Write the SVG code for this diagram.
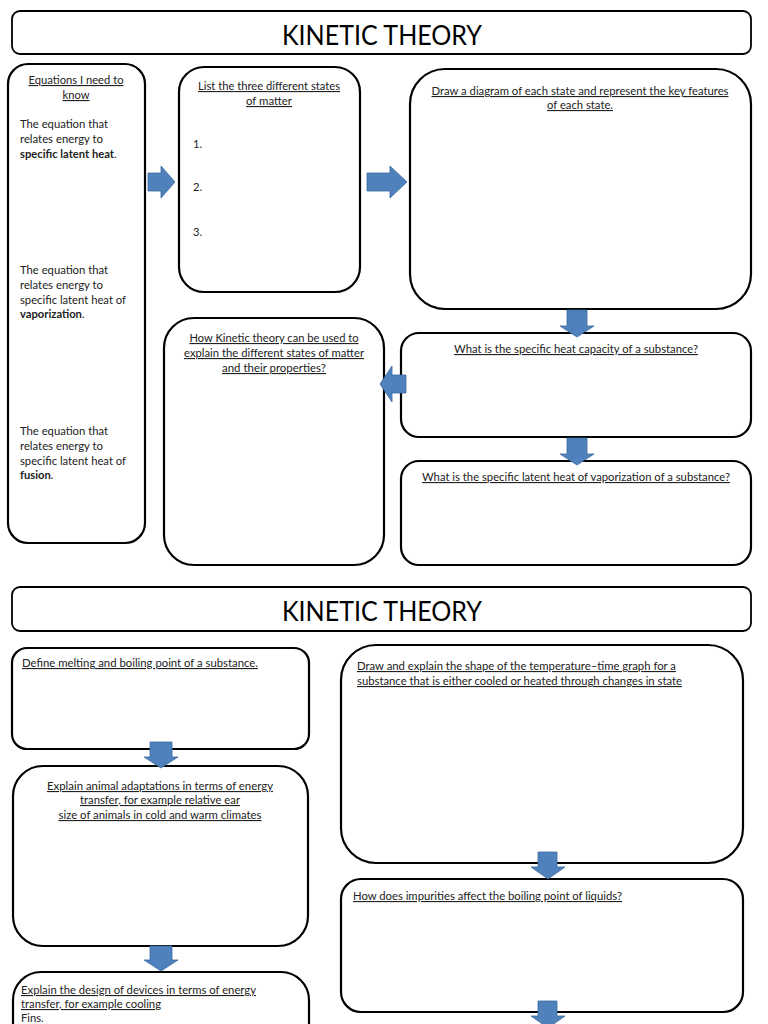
<svg xmlns="http://www.w3.org/2000/svg" width="768" height="1024" viewBox="0 0 768 1024">
<style>
.box{fill:#fff;stroke:#000;stroke-width:2.2}
.ttl{fill:#fff;stroke:#000;stroke-width:1.8}
.arr{fill:#4F81BD;stroke:#3A6A9E;stroke-width:0.8}
text{font-family:Lato,"Open Sans","Liberation Sans",sans-serif;font-size:11.2px;fill:#222}
.u{text-decoration:underline}
.c{text-anchor:middle}
.h{font-size:27px;fill:#000;text-anchor:middle}
.b{font-weight:bold}
</style>
<rect width="768" height="1024" fill="#fff"/>

<g id="title1">
<rect class="ttl" x="12" y="11" width="739" height="43" rx="8"/>
<text class="h" x="382" y="45" textLength="200" lengthAdjust="spacingAndGlyphs">KINETIC THEORY</text>
</g>

<g id="equations">
<rect class="box" x="8" y="64" width="137" height="479" rx="20"/>
<text class="u c" x="76" y="84" textLength="95" lengthAdjust="spacingAndGlyphs">Equations I need to</text>
<text class="u c" x="76" y="99" textLength="27" lengthAdjust="spacingAndGlyphs">know</text>
<text x="20" y="128" textLength="88" lengthAdjust="spacingAndGlyphs">The equation that</text>
<text x="20" y="143" textLength="83" lengthAdjust="spacingAndGlyphs">relates energy to</text>
<text x="20" y="158"><tspan class="b">specific latent heat</tspan>.</text>
<text x="20" y="274" textLength="88" lengthAdjust="spacingAndGlyphs">The equation that</text>
<text x="20" y="289" textLength="83" lengthAdjust="spacingAndGlyphs">relates energy to</text>
<text x="20" y="304" textLength="106" lengthAdjust="spacingAndGlyphs">specific latent heat of</text>
<text x="20" y="318"><tspan class="b">vaporization</tspan>.</text>
<text x="20" y="435" textLength="88" lengthAdjust="spacingAndGlyphs">The equation that</text>
<text x="20" y="450" textLength="83" lengthAdjust="spacingAndGlyphs">relates energy to</text>
<text x="20" y="465" textLength="106" lengthAdjust="spacingAndGlyphs">specific latent heat of</text>
<text x="20" y="479"><tspan class="b">fusion</tspan>.</text>
</g>

<g id="states">
<rect class="box" x="179" y="67" width="181" height="225" rx="25"/>
<text class="u c" x="269" y="90" textLength="142" lengthAdjust="spacingAndGlyphs">List the three different states</text>
<text class="u c" x="269" y="105" textLength="46" lengthAdjust="spacingAndGlyphs">of matter</text>
<text x="193" y="148">1.</text>
<text x="193" y="191">2.</text>
<text x="193" y="236">3.</text>
</g>

<g id="diagram">
<rect class="box" x="410" y="69" width="341" height="240" rx="35"/>
<text class="u c" x="580" y="95" textLength="297" lengthAdjust="spacingAndGlyphs">Draw a diagram of each state and represent the key features</text>
<text class="u c" x="580" y="109" textLength="66" lengthAdjust="spacingAndGlyphs">of each state.</text>
</g>

<g id="heatcap">
<rect class="box" x="401" y="333" width="350" height="104" rx="18"/>
<text class="u c" x="576" y="353" textLength="244" lengthAdjust="spacingAndGlyphs">What is the specific heat capacity of a substance?</text>
</g>

<g id="latentvap">
<rect class="box" x="401" y="461" width="350" height="104" rx="18"/>
<text class="u c" x="576" y="481" textLength="308" lengthAdjust="spacingAndGlyphs">What is the specific latent heat of vaporization of a substance?</text>
</g>

<g id="kinetic">
<rect class="box" x="164" y="318" width="220" height="247" rx="30"/>
<text class="u c" x="274" y="342" textLength="169" lengthAdjust="spacingAndGlyphs">How Kinetic theory can be used to</text>
<text class="u c" x="274" y="357" textLength="180" lengthAdjust="spacingAndGlyphs">explain the different states of matter</text>
<text class="u c" x="274" y="372" textLength="104" lengthAdjust="spacingAndGlyphs">and their properties?</text>
</g>

<g id="title2">
<rect class="ttl" x="12" y="587" width="739" height="44" rx="8"/>
<text class="h" x="382" y="621" textLength="200" lengthAdjust="spacingAndGlyphs">KINETIC THEORY</text>
</g>

<g id="melting">
<rect class="box" x="12" y="648" width="297" height="101" rx="15"/>
<text class="u" x="22" y="667" textLength="236" lengthAdjust="spacingAndGlyphs">Define melting and boiling point of a substance.</text>
</g>

<g id="animal">
<rect class="box" x="13" y="766" width="295" height="180" rx="30"/>
<text class="u c" x="160" y="790" textLength="226" lengthAdjust="spacingAndGlyphs">Explain animal adaptations in terms of energy</text>
<text class="u c" x="160" y="804" textLength="160" lengthAdjust="spacingAndGlyphs">transfer, for example relative ear</text>
<text class="u c" x="160" y="819" textLength="203" lengthAdjust="spacingAndGlyphs">size of animals in cold and warm climates</text>
</g>

<g id="devices">
<rect class="box" x="13" y="972" width="296" height="90" rx="28"/>
<text class="u" x="21" y="994" textLength="235" lengthAdjust="spacingAndGlyphs">Explain the design of devices in terms of energy</text>
<text class="u" x="21" y="1008" textLength="140" lengthAdjust="spacingAndGlyphs">transfer, for example cooling</text>
<text x="21" y="1022">Fins.</text>
</g>

<g id="graph">
<rect class="box" x="341" y="645" width="402" height="218" rx="35"/>
<text class="u" x="357" y="670" textLength="319" lengthAdjust="spacingAndGlyphs">Draw and explain the shape of the temperature–time graph for a</text>
<text class="u" x="357" y="685" textLength="325" lengthAdjust="spacingAndGlyphs">substance that is either cooled or heated through changes in state</text>
</g>

<g id="impurities">
<rect class="box" x="341" y="879" width="402" height="133" rx="20"/>
<text class="u" x="353" y="900" textLength="269" lengthAdjust="spacingAndGlyphs">How does impurities affect the boiling point of liquids?</text>
</g>

<g id="connectors">
<path class="arr" d="M148,173 H161 V166 L175,182 L161,198 V191 H148 Z"/>
<path class="arr" d="M367,173 H390 V166 L407,182 L390,198 V191 H367 Z"/>
<path class="arr" d="M567,310 H587 V326 H594 L577,337 L560,326 H567 Z"/>
<path class="arr" d="M567,438 H587 V454 H594 L577,465 L560,454 H567 Z"/>
<path class="arr" d="M406,375 H392 V366 L380,384 L392,402 V393 H406 Z"/>
<path class="arr" d="M150,742 H172 V757 H178 L161,768 L144,757 H150 Z"/>
<path class="arr" d="M150,946 H172 V960 H178 L161,971 L144,960 H150 Z"/>
<path class="arr" d="M538,852 H557 V867 H565 L548,879 L531,867 H538 Z"/>
<path class="arr" d="M538,1001 H557 V1016 H565 L548,1028 L531,1016 H538 Z"/>
</g>
</svg>
